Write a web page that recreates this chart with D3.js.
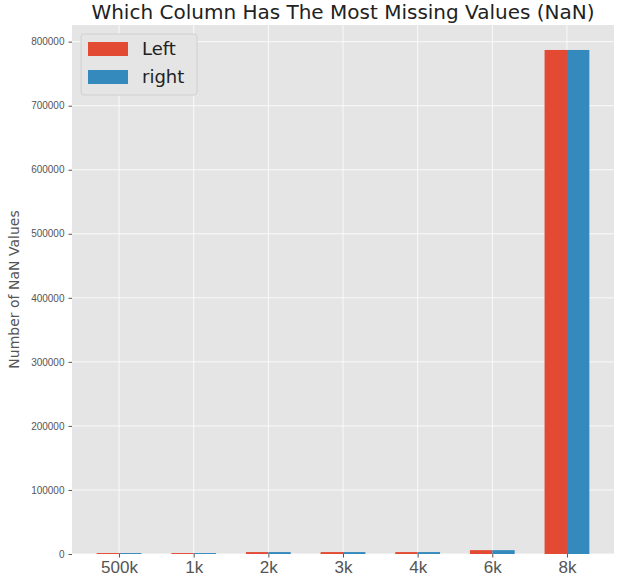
<!DOCTYPE html>
<html><head><meta charset="utf-8">
<script src="https://cdn.jsdelivr.net/npm/d3@7"></script>
<style>body{margin:0;background:#fff;font-family:"DejaVu Sans",sans-serif}</style>
</head><body><div id="chart"></div>
<script>
var categories = ["500k", "1k", "2k", "3k", "4k", "6k", "8k"];
var leftValues = [1500, 1500, 3000, 3000, 3000, 6000, 787000];
var rightValues = [1500, 1500, 3000, 3000, 3000, 6000, 787000];
var yTicks = [0, 100000, 200000, 300000, 400000, 500000, 600000, 700000, 800000];

var svgWidth = 622, svgHeight = 579;
var margin = {top: 25, bottom: 25, left: 72, right: 8};
var width = svgWidth - margin.left - margin.right;
var height = svgHeight - margin.top - margin.bottom;

var svg = d3.select("#chart").append("svg")
    .attr("width", svgWidth).attr("height", svgHeight);
var g = svg.append("g").attr("transform", `translate(${margin.left}, ${margin.top})`);

// matplotlib-style numeric x: bars at integer positions, width 0.3 each
var x = d3.scaleLinear().domain([-0.63, categories.length - 1 + 0.63]).range([0, width]);
var y = d3.scaleLinear().domain([0, 826000]).range([height, 0]);

g.append("rect").attr("width", width).attr("height", height).attr("fill", "#e5e5e5");

// grid
g.selectAll(".hg").data(yTicks).enter().append("line")
    .attr("x1", 0).attr("x2", width)
    .attr("y1", d => y(d)).attr("y2", d => y(d))
    .attr("stroke", "#fff").attr("stroke-width", 0.8);
g.selectAll(".vg").data(categories).enter().append("line")
    .attr("x1", (d, i) => x(i)).attr("x2", (d, i) => x(i))
    .attr("y1", 0).attr("y2", height)
    .attr("stroke", "#fff").attr("stroke-width", 0.8);

var bw = x(0.3) - x(0);
g.selectAll(".bl").data(leftValues).enter().append("rect")
    .attr("x", (d, i) => x(i - 0.3)).attr("width", bw)
    .attr("y", d => y(d)).attr("height", d => height - y(d))
    .attr("fill", "#e24a33");
g.selectAll(".br").data(rightValues).enter().append("rect")
    .attr("x", (d, i) => x(i)).attr("width", bw)
    .attr("y", d => y(d)).attr("height", d => height - y(d))
    .attr("fill", "#348abd");

// axes
var yAxis = g.append("g").call(d3.axisLeft(y).tickValues(yTicks).tickFormat(d3.format("d")).tickSize(3.5).tickPadding(4));
yAxis.select(".domain").remove();
yAxis.selectAll("line").attr("stroke", "#555");
yAxis.selectAll("text").attr("fill", "#555").style("font-size", "10px");

var xAxis = g.append("g").attr("transform", `translate(0, ${height})`)
    .call(d3.axisBottom(x).tickValues(d3.range(categories.length)).tickFormat(i => categories[i]).tickSize(3.5).tickPadding(3));
xAxis.select(".domain").remove();
xAxis.selectAll("line").attr("stroke", "#555");
xAxis.selectAll("text").attr("fill", "#555").style("font-size", "17px");

// titles
svg.append("text").attr("x", margin.left + width / 2).attr("y", 19)
    .attr("text-anchor", "middle").style("font-size", "20px").attr("fill", "#222")
    .text("Which Column Has The Most Missing Values (NaN)");
svg.append("text")
    .attr("transform", `translate(19, ${margin.top + height / 2}) rotate(-90)`)
    .attr("text-anchor", "middle").style("font-size", "14px").attr("fill", "#555")
    .text("Number of NaN Values");

// legend
var leg = g.append("g").attr("transform", "translate(9, 9)");
leg.append("rect").attr("width", 116).attr("height", 61).attr("rx", 3)
    .attr("fill", "#e5e5e5").attr("stroke", "#d0d0d0");
[["Left", "#e24a33"], ["right", "#348abd"]].forEach(function (s, i) {
    leg.append("rect").attr("x", 7).attr("y", 8 + i * 28).attr("width", 40).attr("height", 14).attr("fill", s[1]);
    leg.append("text").attr("x", 61).attr("y", 21 + i * 28).style("font-size", "18px").attr("fill", "#222").text(s[0]);
});
</script></body></html>
